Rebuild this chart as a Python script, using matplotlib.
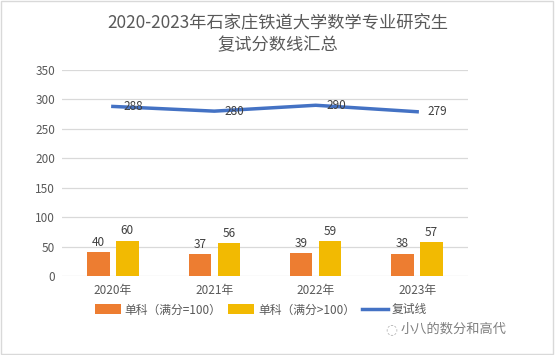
import numpy as np
import matplotlib
matplotlib.use("Agg")
import matplotlib.pyplot as plt
from matplotlib.patches import Rectangle

plt.rcParams['font.family'] = ['Noto Sans CJK SC', 'DejaVu Sans']

years = ["2020年", "2021年", "2022年", "2023年"]
single_100 = [40, 37, 39, 38]
single_over100 = [60, 56, 59, 57]
retest_line = [288, 280, 290, 279]

ORANGE = "#ED7D31"
YELLOW = "#F2BA02"
BLUE = "#4472C4"
TXT = "#595959"

fig = plt.figure(figsize=(5.55, 3.55), dpi=100)
ax = fig.add_axes([0.112, 0.2225, 0.731, 0.5805])

x = np.arange(len(years))
w = 0.22
off = 0.143

b1 = ax.bar(x - off, single_100, w, color=ORANGE, label="单科（满分=100）", zorder=3)
b2 = ax.bar(x + off, single_over100, w, color=YELLOW, label="单科（满分>100）", zorder=3)
ln, = ax.plot(x, retest_line, color=BLUE, lw=2.5, label="复试线", zorder=4)

for rect, v in zip(b1, single_100):
    ax.text(rect.get_x() + rect.get_width() / 2, v + 6, str(v), ha="center", va="bottom",
            fontsize=8.5, color="#404040")
for rect, v in zip(b2, single_over100):
    ax.text(rect.get_x() + rect.get_width() / 2, v + 6, str(v), ha="center", va="bottom",
            fontsize=8.5, color="#404040")
for xi, v in zip(x, retest_line):
    ax.text(xi + 0.2, v, str(v), ha="center", va="center", fontsize=8.5, color="#404040", zorder=5)

ax.set_xlim(-0.5, len(years) - 0.5)
ax.set_ylim(0, 350)
ax.set_yticks(np.arange(0, 351, 50))
ax.set_xticks(x)
ax.set_xticklabels(years)
ax.tick_params(axis="both", length=0, labelsize=8.5, labelcolor=TXT)
ax.tick_params(axis="y", pad=5)
ax.tick_params(axis="x", pad=6)
ax.grid(axis="y", color="#D9D9D9", lw=0.9, zorder=0)
for s in ax.spines.values():
    s.set_visible(False)

fig.text(0.5, 0.935, "2020-2023年石家庄铁道大学数学专业研究生", ha="center", va="center",
         fontsize=12.4, color=TXT)
fig.text(0.5, 0.873, "复试分数线汇总", ha="center", va="center", fontsize=12.4, color=TXT)

fig.legend(handles=[b1, b2, ln], loc="center", bbox_to_anchor=(0.47, 0.127), ncol=3,
           frameon=False, fontsize=8.5, labelcolor=TXT, handlelength=2.2, handleheight=0.9,
           columnspacing=0.6, handletextpad=0.3)

fig.text(0.913, 0.073, "小八的数分和高代", ha="right", va="center", fontsize=9.5, color="#7f7f7f")
fig.text(0.705, 0.073, "◌", ha="center", va="center", fontsize=10, color="#b0b0b0",
         family=['DejaVu Sans'])

fig.patches.append(Rectangle((0.002, 0.003), 0.995, 0.994, transform=fig.transFigure,
                             fill=False, edgecolor="#D9D9D9", lw=1))

fig.savefig("out.png", dpi=100)
